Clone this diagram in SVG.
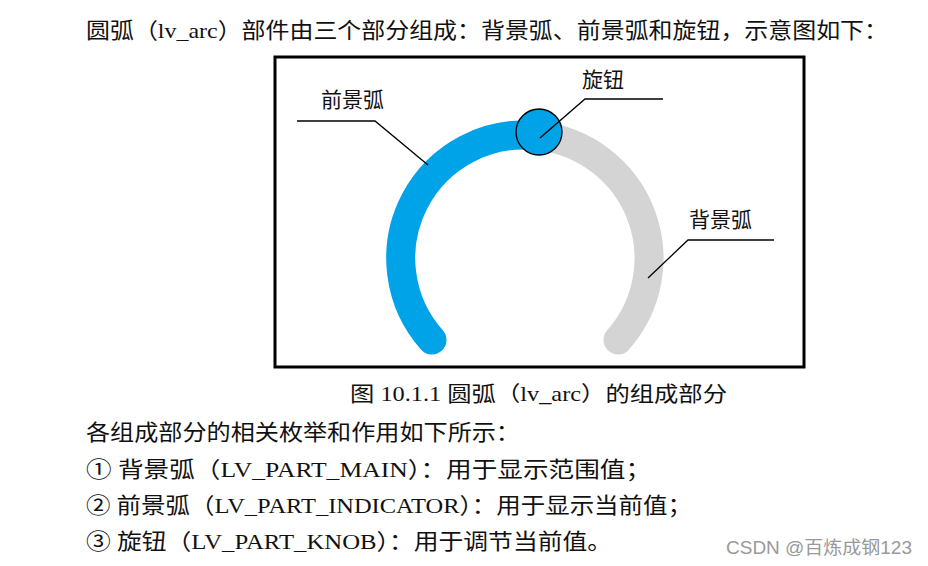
<svg xmlns="http://www.w3.org/2000/svg" width="928" height="566" viewBox="0 0 928 566">
<style>
.t{font-family:"Liberation Serif","Noto Sans CJK SC",serif;font-size:22px;fill:#111}
.l{font-family:"Liberation Serif","Noto Sans CJK SC",serif;font-size:21px;fill:#111}
.ln{stroke:#000;stroke-width:1.3;fill:none}
</style>
<rect width="928" height="566" fill="#fff"/>
<text class="t" x="86" y="38" textLength="802" lengthAdjust="spacingAndGlyphs">圆弧（lv_arc）部件由三个部分组成：背景弧、前景弧和旋钮，示意图如下：</text>
<rect x="275" y="57" width="529" height="310" fill="#fff" stroke="#000" stroke-width="3"/>
<g id="bg-arc"><path d="M539,136 A123,123 0 0 1 618,340" fill="none" stroke="#d4d4d4" stroke-width="29" stroke-linecap="round"/></g>
<g id="fg-arc"><path d="M432,340 A123,123 0 0 1 539,136" fill="none" stroke="#00a2e8" stroke-width="29" stroke-linecap="round"/></g>
<g id="knob"><circle cx="539" cy="132" r="23" fill="#00a2e8" stroke="#000" stroke-width="1.3"/></g>
<g id="connectors">
<path class="ln" d="M297,121 H375 L428,165"/>
<path class="ln" d="M663,99 H585 L540,138"/>
<path class="ln" d="M774,240 H688 L648,278"/>
</g>
<g id="labels">
<text class="l" x="321" y="107">前景弧</text>
<text class="l" x="582" y="87">旋钮</text>
<text class="l" x="689" y="227">背景弧</text>
</g>
<text class="l" x="350" y="401" textLength="377" lengthAdjust="spacingAndGlyphs">图 10.1.1 圆弧（lv_arc）的组成部分</text>
<text class="t" x="86" y="440" textLength="434" lengthAdjust="spacingAndGlyphs">各组成部分的相关枚举和作用如下所示：</text>
<text class="t" x="86" y="477" textLength="565" lengthAdjust="spacingAndGlyphs">① 背景弧（LV_PART_MAIN）：用于显示范围值；</text>
<text class="t" x="86" y="513" textLength="606" lengthAdjust="spacingAndGlyphs">② 前景弧（LV_PART_INDICATOR）：用于显示当前值；</text>
<text class="t" x="86" y="549" textLength="526" lengthAdjust="spacingAndGlyphs">③ 旋钮（LV_PART_KNOB）：用于调节当前值。</text>
<text x="726" y="554" font-family="Liberation Sans,Noto Sans CJK SC,sans-serif" font-size="18" fill="#999" textLength="186" lengthAdjust="spacingAndGlyphs">CSDN @百炼成钢123</text>
</svg>
